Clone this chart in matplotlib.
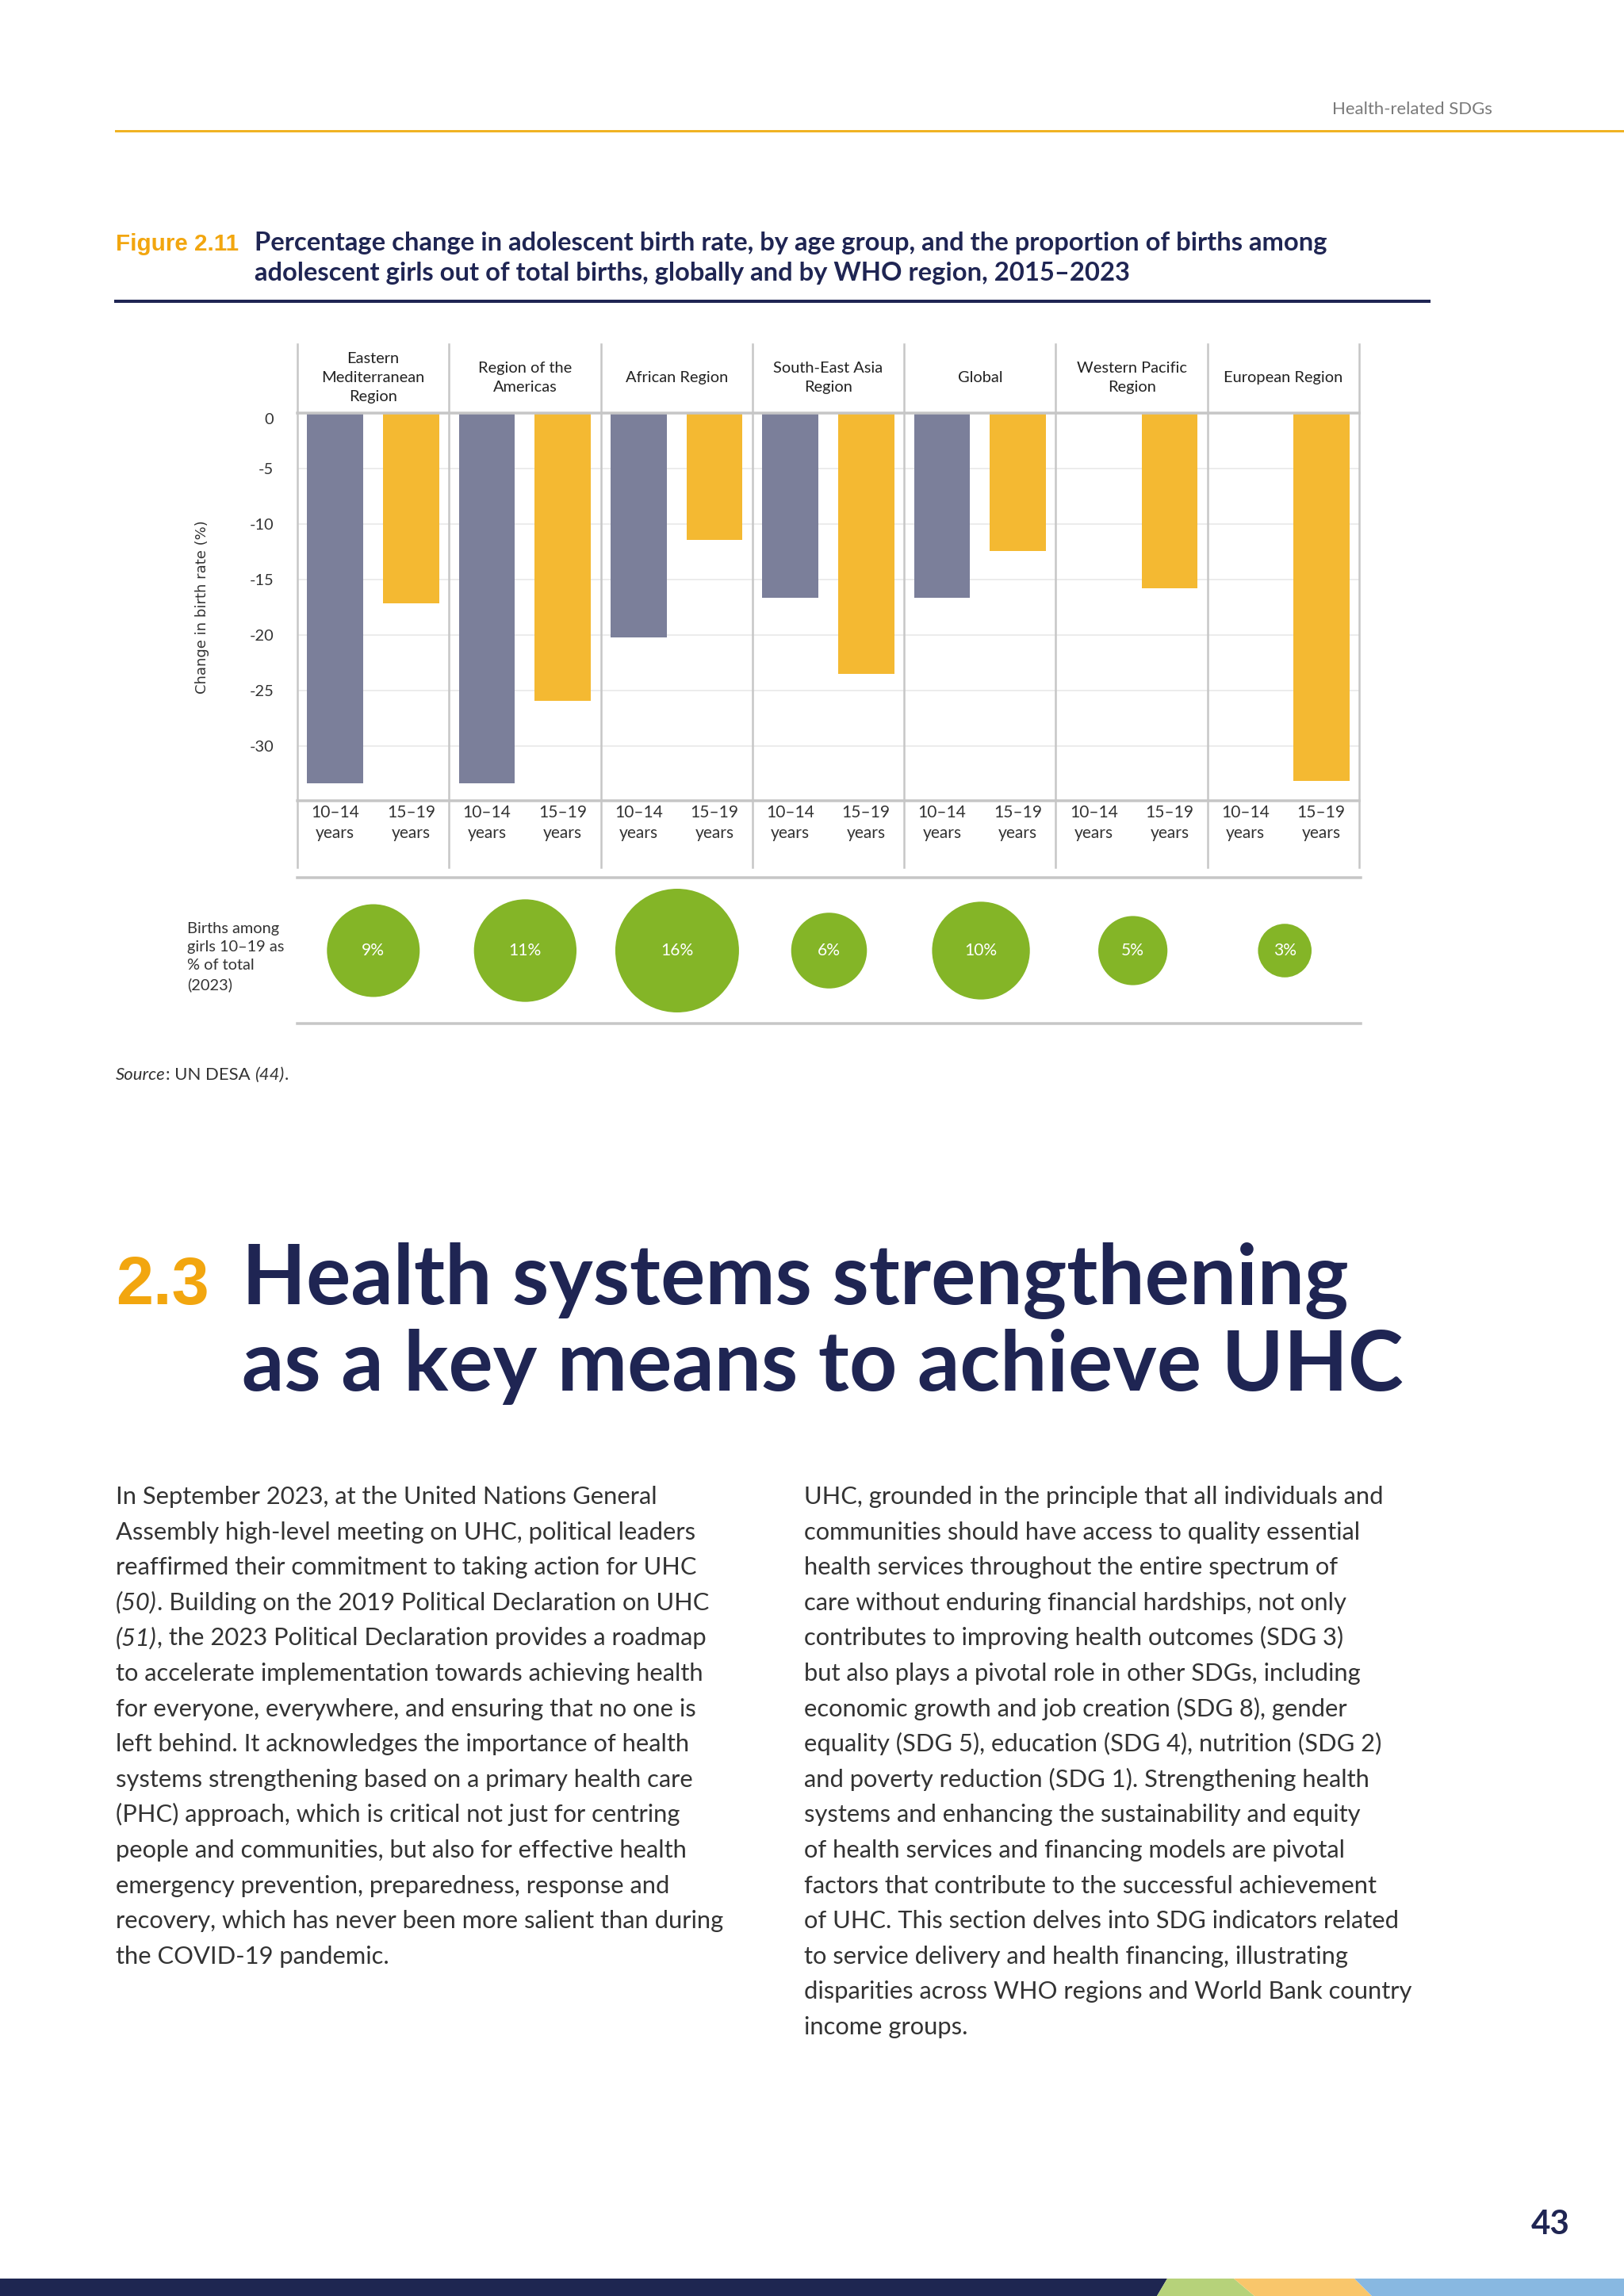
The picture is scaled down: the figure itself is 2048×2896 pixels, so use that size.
import matplotlib
matplotlib.use('Agg')
import matplotlib.pyplot as plt
from matplotlib.lines import Line2D
from matplotlib.patches import Polygon
from matplotlib.text import Annotation
import matplotlib.transforms as mtransforms
import numpy as np

plt.rcParams['font.family'] = ['Lato', 'DejaVu Sans']
plt.rcParams['axes.unicode_minus'] = False

# ---------------- data ----------------
regions = ["Eastern\nMediterranean\nRegion", "Region of the\nAmericas", "African Region",
           "South-East Asia\nRegion", "Global", "Western Pacific\nRegion", "European Region"]
age_groups = ["10–14\nyears", "15–19\nyears"]
change_10_14 = [-33.3, -33.3, -20.2, -16.6, -16.6, -0.1, -0.1]
change_15_19 = [-17.1, -25.9, -11.4, -23.5, -12.4, -15.8, -33.1]
births_share = [9, 11, 16, 6, 10, 5, 3]
y_ticks = [0, -5, -10, -15, -20, -25, -30]

left_col = [
    ["In September 2023, at the United Nations General"],
    ["Assembly high-level meeting on UHC, political leaders"],
    ["reaffirmed their commitment to taking action for UHC"],
    [("(50)", "italic"), ". Building on the 2019 Political Declaration on UHC"],
    [("(51)", "italic"), ", the 2023 Political Declaration provides a roadmap"],
    ["to accelerate implementation towards achieving health"],
    ["for everyone, everywhere, and ensuring that no one is"],
    ["left behind. It acknowledges the importance of health"],
    ["systems strengthening based on a primary health care"],
    ["(PHC) approach, which is critical not just for centring"],
    ["people and communities, but also for effective health"],
    ["emergency prevention, preparedness, response and"],
    ["recovery, which has never been more salient than during"],
    ["the COVID-19 pandemic."],
]
right_col = [
    ["UHC, grounded in the principle that all individuals and"],
    ["communities should have access to quality essential"],
    ["health services throughout the entire spectrum of"],
    ["care without enduring financial hardships, not only"],
    ["contributes to improving health outcomes (SDG 3)"],
    ["but also plays a pivotal role in other SDGs, including"],
    ["economic growth and job creation (SDG 8), gender"],
    ["equality (SDG 5), education (SDG 4), nutrition (SDG 2)"],
    ["and poverty reduction (SDG 1). Strengthening health"],
    ["systems and enhancing the sustainability and equity"],
    ["of health services and financing models are pivotal"],
    ["factors that contribute to the successful achievement"],
    ["of UHC. This section delves into SDG indicators related"],
    ["to service delivery and health financing, illustrating"],
    ["disparities across WHO regions and World Bank country"],
    ["income groups."],
]

# ---------------- page setup ----------------
W, H = 2048, 2896
DPI = 100
fig = plt.figure(figsize=(W / DPI, H / DPI), dpi=DPI)
fig.patch.set_facecolor('white')

def fx(px): return px / W
def fy(py): return 1 - py / H
def pt(px): return px * 72 / DPI

NAVY = '#1f2553'
ORANGE = '#f2a60f'
GRAY_LINE = '#c6c6c6'
TXT = '#333333'
BAR1 = '#7b7f9a'
BAR2 = '#f4b932'
GREEN = '#84b527'

renderer = fig.canvas.get_renderer()

def fit(t, target_px):
    w = t.get_window_extent(renderer).width
    t.set_fontsize(t.get_fontsize() * target_px / w)
    return t.get_fontsize()

def chain(prev, txt, **kw):
    a = Annotation(txt, xy=(1, 0), xycoords=prev, ha='left', va='bottom', **kw)
    fig.add_artist(a)
    return a

# running header
t = fig.text(fx(1882), fy(138), "Health-related SDGs", ha='right', va='center',
             color='#7a7a7a', fontsize=pt(25))
fit(t, 201)
fig.add_artist(Line2D([fx(146), 1.0], [fy(165), fy(165)], color='#f0b323', lw=pt(3),
                      transform=fig.transFigure))

# figure title
t = fig.text(fx(146), fy(316), "Figure 2.11", ha='left', va='baseline', color=ORANGE,
             fontsize=pt(27), fontweight='bold', family=['Liberation Sans', 'DejaVu Sans'])
fit(t, 155)
t1 = fig.text(fx(321), fy(316), "Percentage change in adolescent birth rate, by age group, and the proportion of births among",
              ha='left', va='baseline', color=NAVY, fontsize=pt(30), fontweight='bold')
ts = fit(t1, 1354)
fig.text(fx(321), fy(354), "adolescent girls out of total births, globally and by WHO region, 2015–2023",
         ha='left', va='baseline', color=NAVY, fontsize=ts, fontweight='bold')
fig.add_artist(Line2D([fx(146), fx(1802)], [fy(380), fy(380)], color=NAVY, lw=pt(4),
                      transform=fig.transFigure))

# ---------------- bar chart ----------------
ax = fig.add_axes([fx(375), fy(1010), fx(1714 - 375), (1010 - 521) / H])
n = len(regions)
x0 = np.arange(n) * 2
x1 = np.arange(n) * 2 + 1
ax.bar(x0, change_10_14, width=0.74, color=BAR1, zorder=2)
ax.bar(x1, change_15_19, width=0.74, color=BAR2, zorder=2)
ax.set_xlim(-0.5, 2 * n - 0.5)
ax.set_ylim(-34.9, 0)
ax.set_yticks(y_ticks)
ax.set_yticklabels([str(v) for v in y_ticks])
ax.yaxis.grid(True, color='#ececec', lw=pt(2))
ax.set_axisbelow(True)
ax.set_xticks(np.arange(2 * n))
ax.set_xticklabels(age_groups * n, linespacing=1.35)
ax.tick_params(axis='x', length=0, pad=pt(5), labelsize=pt(21), labelcolor=TXT)
ax.tick_params(axis='y', length=0, pad=pt(30), labelsize=pt(20), labelcolor=TXT)
for lbl in ax.get_yticklabels():
    if lbl.get_text() == '0':
        lbl.set_va('top')
for s in ['left', 'right']:
    ax.spines[s].set_visible(False)
for s in ['top', 'bottom']:
    ax.spines[s].set_color(GRAY_LINE)
    ax.spines[s].set_linewidth(pt(3.5))
for k in range(n + 1):
    ax.axvline(2 * k - 0.5, ymin=-0.172, ymax=1.178, color=GRAY_LINE, lw=pt(2.5), clip_on=False)
trans = mtransforms.blended_transform_factory(ax.transData, ax.transAxes)
for i, r in enumerate(regions):
    ax.text(2 * i + 0.5, 1.09, r, transform=trans, ha='center', va='center', fontsize=pt(20),
            color='#222222', linespacing=1.5)
ax.set_ylabel("Change in birth rate (%)", family='DejaVu Sans', fontsize=pt(18), color=TXT)
ax.yaxis.set_label_coords(-0.083, 0.5)

# ---------------- bubble row ----------------
ax2 = fig.add_axes([fx(375), fy(1291), fx(1716 - 375), (1291 - 1107) / H])
ax2.set_xlim(-0.5, 2 * n - 0.5)
ax2.set_ylim(-1, 1)
bx = np.arange(n) * 2 + 0.5
sizes = (pt(39.0)) ** 2 * np.array(births_share, dtype=float)
ax2.scatter(bx, np.zeros(n), s=sizes, color=GREEN, edgecolors='none', zorder=2)
for xv, v in zip(bx, births_share):
    ax2.text(xv, 0, f"{v}%", ha='center', va='center', color='white', fontsize=pt(21), zorder=3)
ax2.set_xticks([])
ax2.set_yticks([])
for s in ['left', 'right']:
    ax2.spines[s].set_visible(False)
for s in ['top', 'bottom']:
    ax2.spines[s].set_color(GRAY_LINE)
    ax2.spines[s].set_linewidth(pt(3.5))
fig.text(fx(236), fy(1207), "Births among\ngirls 10–19 as\n% of total\n(2023)", ha='left', va='center',
         fontsize=pt(20), color=TXT, linespacing=1.45)

# source
src_size = pt(22.2)
s1 = fig.text(fx(146), fy(1362), "Source", ha='left', va='baseline', color=TXT, fontsize=src_size, style='italic')
s2 = chain(s1, ": UN DESA ", color=TXT, fontsize=src_size)
s3 = chain(s2, "(44)", color=TXT, fontsize=src_size, style='italic')
s4 = chain(s3, ".", color=TXT, fontsize=src_size)

# ---------------- section heading ----------------
t = fig.text(fx(146), fy(1645), "2.3", ha='left', va='baseline', color=ORANGE,
             fontsize=pt(85), fontweight='bold', family=['Liberation Sans', 'DejaVu Sans'])
fit(t, 118)
h1 = fig.text(fx(305), fy(1645), "Health systems strengthening", ha='left', va='baseline',
              color=NAVY, fontsize=pt(100), fontweight='bold')
h2 = fig.text(fx(305), fy(1754), "as a key means to achieve UHC", ha='left', va='baseline',
              color=NAVY, fontsize=pt(100), fontweight='bold')
r1 = 1418 / h1.get_window_extent(renderer).width
r2 = 1442 / h2.get_window_extent(renderer).width
hs = pt(100) * (r1 + r2) / 2
h1.set_fontsize(hs)
h2.set_fontsize(hs)

# ---------------- body text ----------------
probe_size = pt(30)
refs = [("In September 2023, at the United Nations General", 674),
        ("recovery, which has never been more salient than during", 772),
        ("UHC, grounded in the principle that all individuals and", 740)]
ratios = []
for s, w in refs:
    tp = fig.text(0, 0, s, fontsize=probe_size)
    ratios.append(w / tp.get_window_extent(renderer).width)
    tp.remove()
body_size = probe_size * float(np.mean(ratios))

def draw_col(lines, x_px, y0_px, step_px):
    for i, segs in enumerate(lines):
        y = y0_px + i * step_px
        prev = None
        for seg in segs:
            if isinstance(seg, tuple):
                txt, style = seg
            else:
                txt, style = seg, 'normal'
            if prev is None:
                prev = fig.text(fx(x_px), fy(y), txt, ha='left', va='baseline', color=TXT,
                                fontsize=body_size, style=style)
            else:
                prev = chain(prev, txt, color=TXT, fontsize=body_size, style=style)

draw_col(left_col, 146, 1897, 44.6)
draw_col(right_col, 1014, 1897, 44.6)

# page number
fig.text(fx(1980), fy(2818), "43", ha='right', va='baseline', color=NAVY, fontsize=pt(42), fontweight='bold')

# bottom band
def band(pts, color):
    fig.add_artist(Polygon([(fx(a), fy(b)) for a, b in pts], closed=True, facecolor=color,
                           edgecolor='none', transform=fig.transFigure))
band([(0, 2874), (1472, 2874), (1459, 2896), (0, 2896)], '#1e2651')
band([(1472, 2874), (1556, 2874), (1582, 2896), (1459, 2896)], '#b6d27a')
band([(1556, 2874), (1708, 2874), (1730, 2896), (1582, 2896)], '#f9c66b')
band([(1708, 2874), (2048, 2874), (2048, 2896), (1730, 2896)], '#88b8e1')

fig.savefig('out.png', dpi=DPI, facecolor='white')
